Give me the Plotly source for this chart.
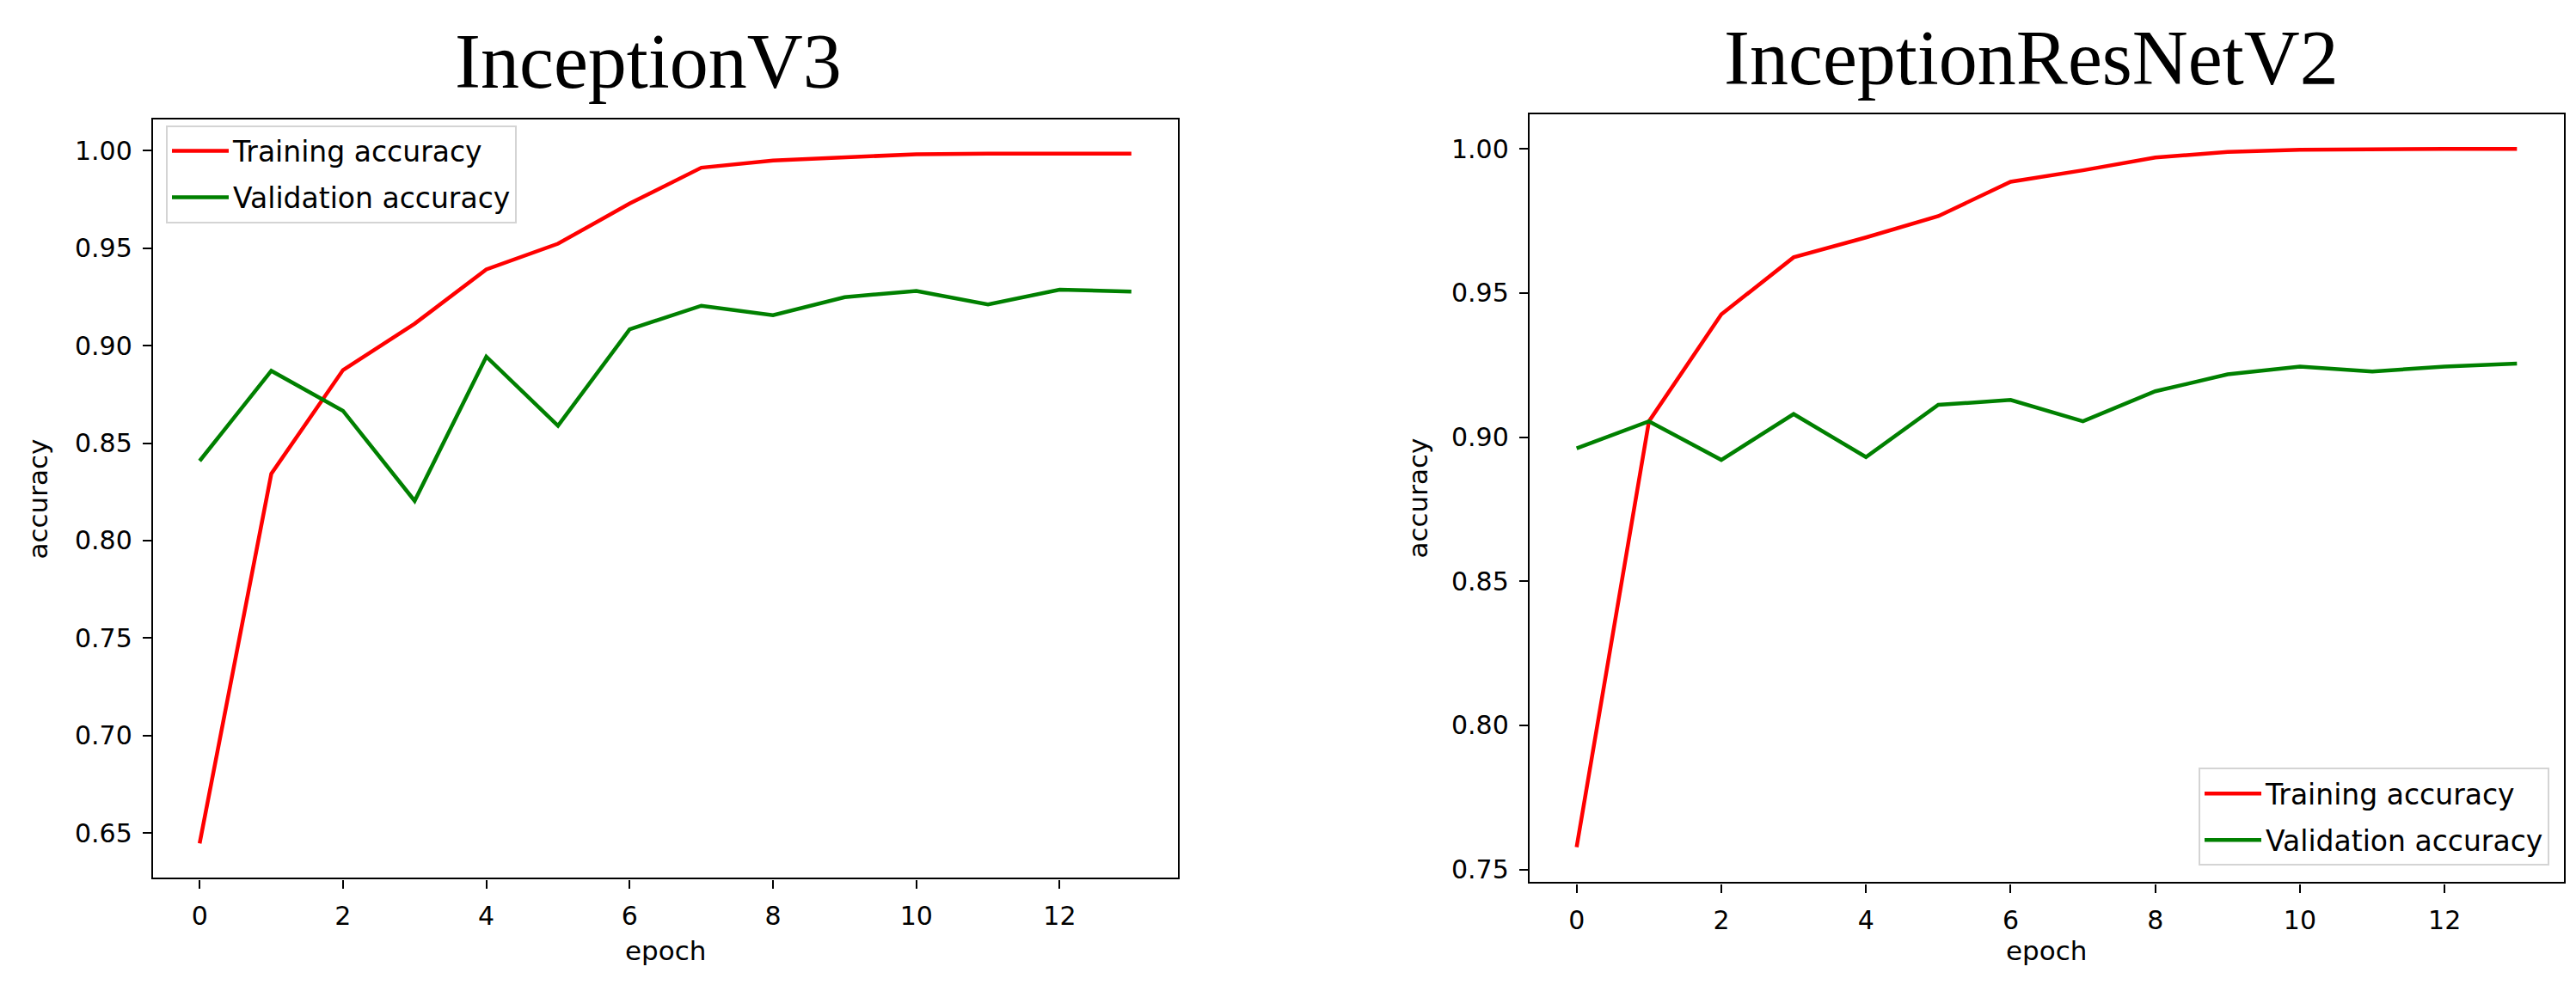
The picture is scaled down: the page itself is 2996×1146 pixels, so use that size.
import plotly.graph_objects as go

# epochs and accuracy values
epochs = list(range(14))

v3_train = [0.6447, 0.8343, 0.8875, 0.9113, 0.9391, 0.9523, 0.9729, 0.9913,
            0.9950, 0.9968, 0.9982, 0.9985, 0.9985, 0.9985]
v3_val = [0.8409, 0.8871, 0.8666, 0.8204, 0.8944, 0.8589, 0.9084, 0.9205,
          0.9156, 0.9249, 0.9281, 0.9212, 0.9287, 0.9278]

irv2_train = [0.7577, 0.9055, 0.9426, 0.9624, 0.9693, 0.9767, 0.9886, 0.9926,
              0.9970, 0.9990, 0.9997, 1.0000, 1.0000, 1.0000]
irv2_val = [0.8961, 0.9055, 0.8921, 0.9080, 0.8931, 0.9112, 0.9129, 0.9055,
            0.9159, 0.9218, 0.9245, 0.9228, 0.9245, 0.9255]

titles = ['InceptionV3', 'InceptionResNetV2']
x_ticks = [0, 2, 4, 6, 8, 10, 12]
v3_y_ticks = [0.65, 0.70, 0.75, 0.80, 0.85, 0.90, 0.95, 1.00]
irv2_y_ticks = [0.75, 0.80, 0.85, 0.90, 0.95, 1.00]

W, H = 2996, 1146
TICK_FONT = dict(family='DejaVu Sans', size=30, color='black')


def padded(vals):
    # matplotlib style 5% autoscale margin
    lo, hi = min(vals), max(vals)
    pad = (hi - lo) * 0.05
    return [lo - pad, hi + pad]


def px_x(p):
    return p / W


def px_y(p):
    return 1 - p / H


fig = go.Figure()

# left panel
fig.add_trace(go.Scatter(x=epochs, y=v3_train, mode='lines', name='Training accuracy',
                         line=dict(color='red', width=4.5), xaxis='x', yaxis='y',
                         legend='legend', legendgroup='a'))
fig.add_trace(go.Scatter(x=epochs, y=v3_val, mode='lines', name='Validation accuracy',
                         line=dict(color='green', width=4.5), xaxis='x', yaxis='y',
                         legend='legend', legendgroup='b'))

# right panel
fig.add_trace(go.Scatter(x=epochs, y=irv2_train, mode='lines', name='Training accuracy',
                         line=dict(color='red', width=4.5), xaxis='x2', yaxis='y2',
                         legend='legend2', legendgroup='c'))
fig.add_trace(go.Scatter(x=epochs, y=irv2_val, mode='lines', name='Validation accuracy',
                         line=dict(color='green', width=4.5), xaxis='x2', yaxis='y2',
                         legend='legend2', legendgroup='d'))

axis_style = dict(
    showline=True, mirror=True, linecolor='black', linewidth=2.4,
    ticks='outside', ticklen=10, tickwidth=2.4, tickcolor='black',
    showgrid=False, zeroline=False, tickfont=TICK_FONT,
    ticklabelstandoff=6,
)

legend_style = dict(
    font=dict(family='DejaVu Sans', size=33, color='black'),
    bgcolor='white', bordercolor='#d4d4d4', borderwidth=2,
    tracegroupgap=8, itemwidth=66,
)

fig.update_layout(
    width=W, height=H,
    margin=dict(l=0, r=0, t=0, b=0),
    paper_bgcolor='white', plot_bgcolor='white',
    xaxis=dict(domain=[px_x(170), px_x(1362)], range=[-0.65, 13.65],
               tickvals=x_ticks, anchor='y', **axis_style),
    yaxis=dict(domain=[px_y(1016), px_y(131)], range=padded(v3_train + v3_val),
               tickvals=v3_y_ticks, tickformat='.2f', anchor='x', **axis_style),
    xaxis2=dict(domain=[px_x(1771), px_x(2974)], range=[-0.65, 13.65],
                tickvals=x_ticks, anchor='y2', **axis_style),
    yaxis2=dict(domain=[px_y(1021), px_y(125)], range=padded(irv2_train + irv2_val),
                tickvals=irv2_y_ticks, tickformat='.2f', anchor='x2', **axis_style),
    legend=dict(x=px_x(185), y=px_y(138), xanchor='left', yanchor='top', **legend_style),
    legend2=dict(x=px_x(2957), y=px_y(1002), xanchor='right', yanchor='bottom', **legend_style),
)

# titles and axis labels
label_font = dict(family='DejaVu Sans', size=31, color='black')
title_font = dict(family='Liberation Serif', size=90, color='black')
annotations = [
    dict(text=titles[0], x=px_x(746), y=px_y(64), font=title_font),
    dict(text=titles[1], x=px_x(2354), y=px_y(60), font=title_font),
    dict(text='accuracy', x=px_x(36), y=px_y(574), textangle=-90, font=label_font),
    dict(text='accuracy', x=px_x(1640), y=px_y(573), textangle=-90, font=label_font),
    dict(text='epoch', x=px_x(766), y=px_y(1101), font=label_font),
    dict(text='epoch', x=px_x(2372), y=px_y(1101), font=label_font),
]
for a in annotations:
    fig.add_annotation(xref='paper', yref='paper', xanchor='center', yanchor='middle',
                       showarrow=False, **a)

fig.write_html('out.html')
